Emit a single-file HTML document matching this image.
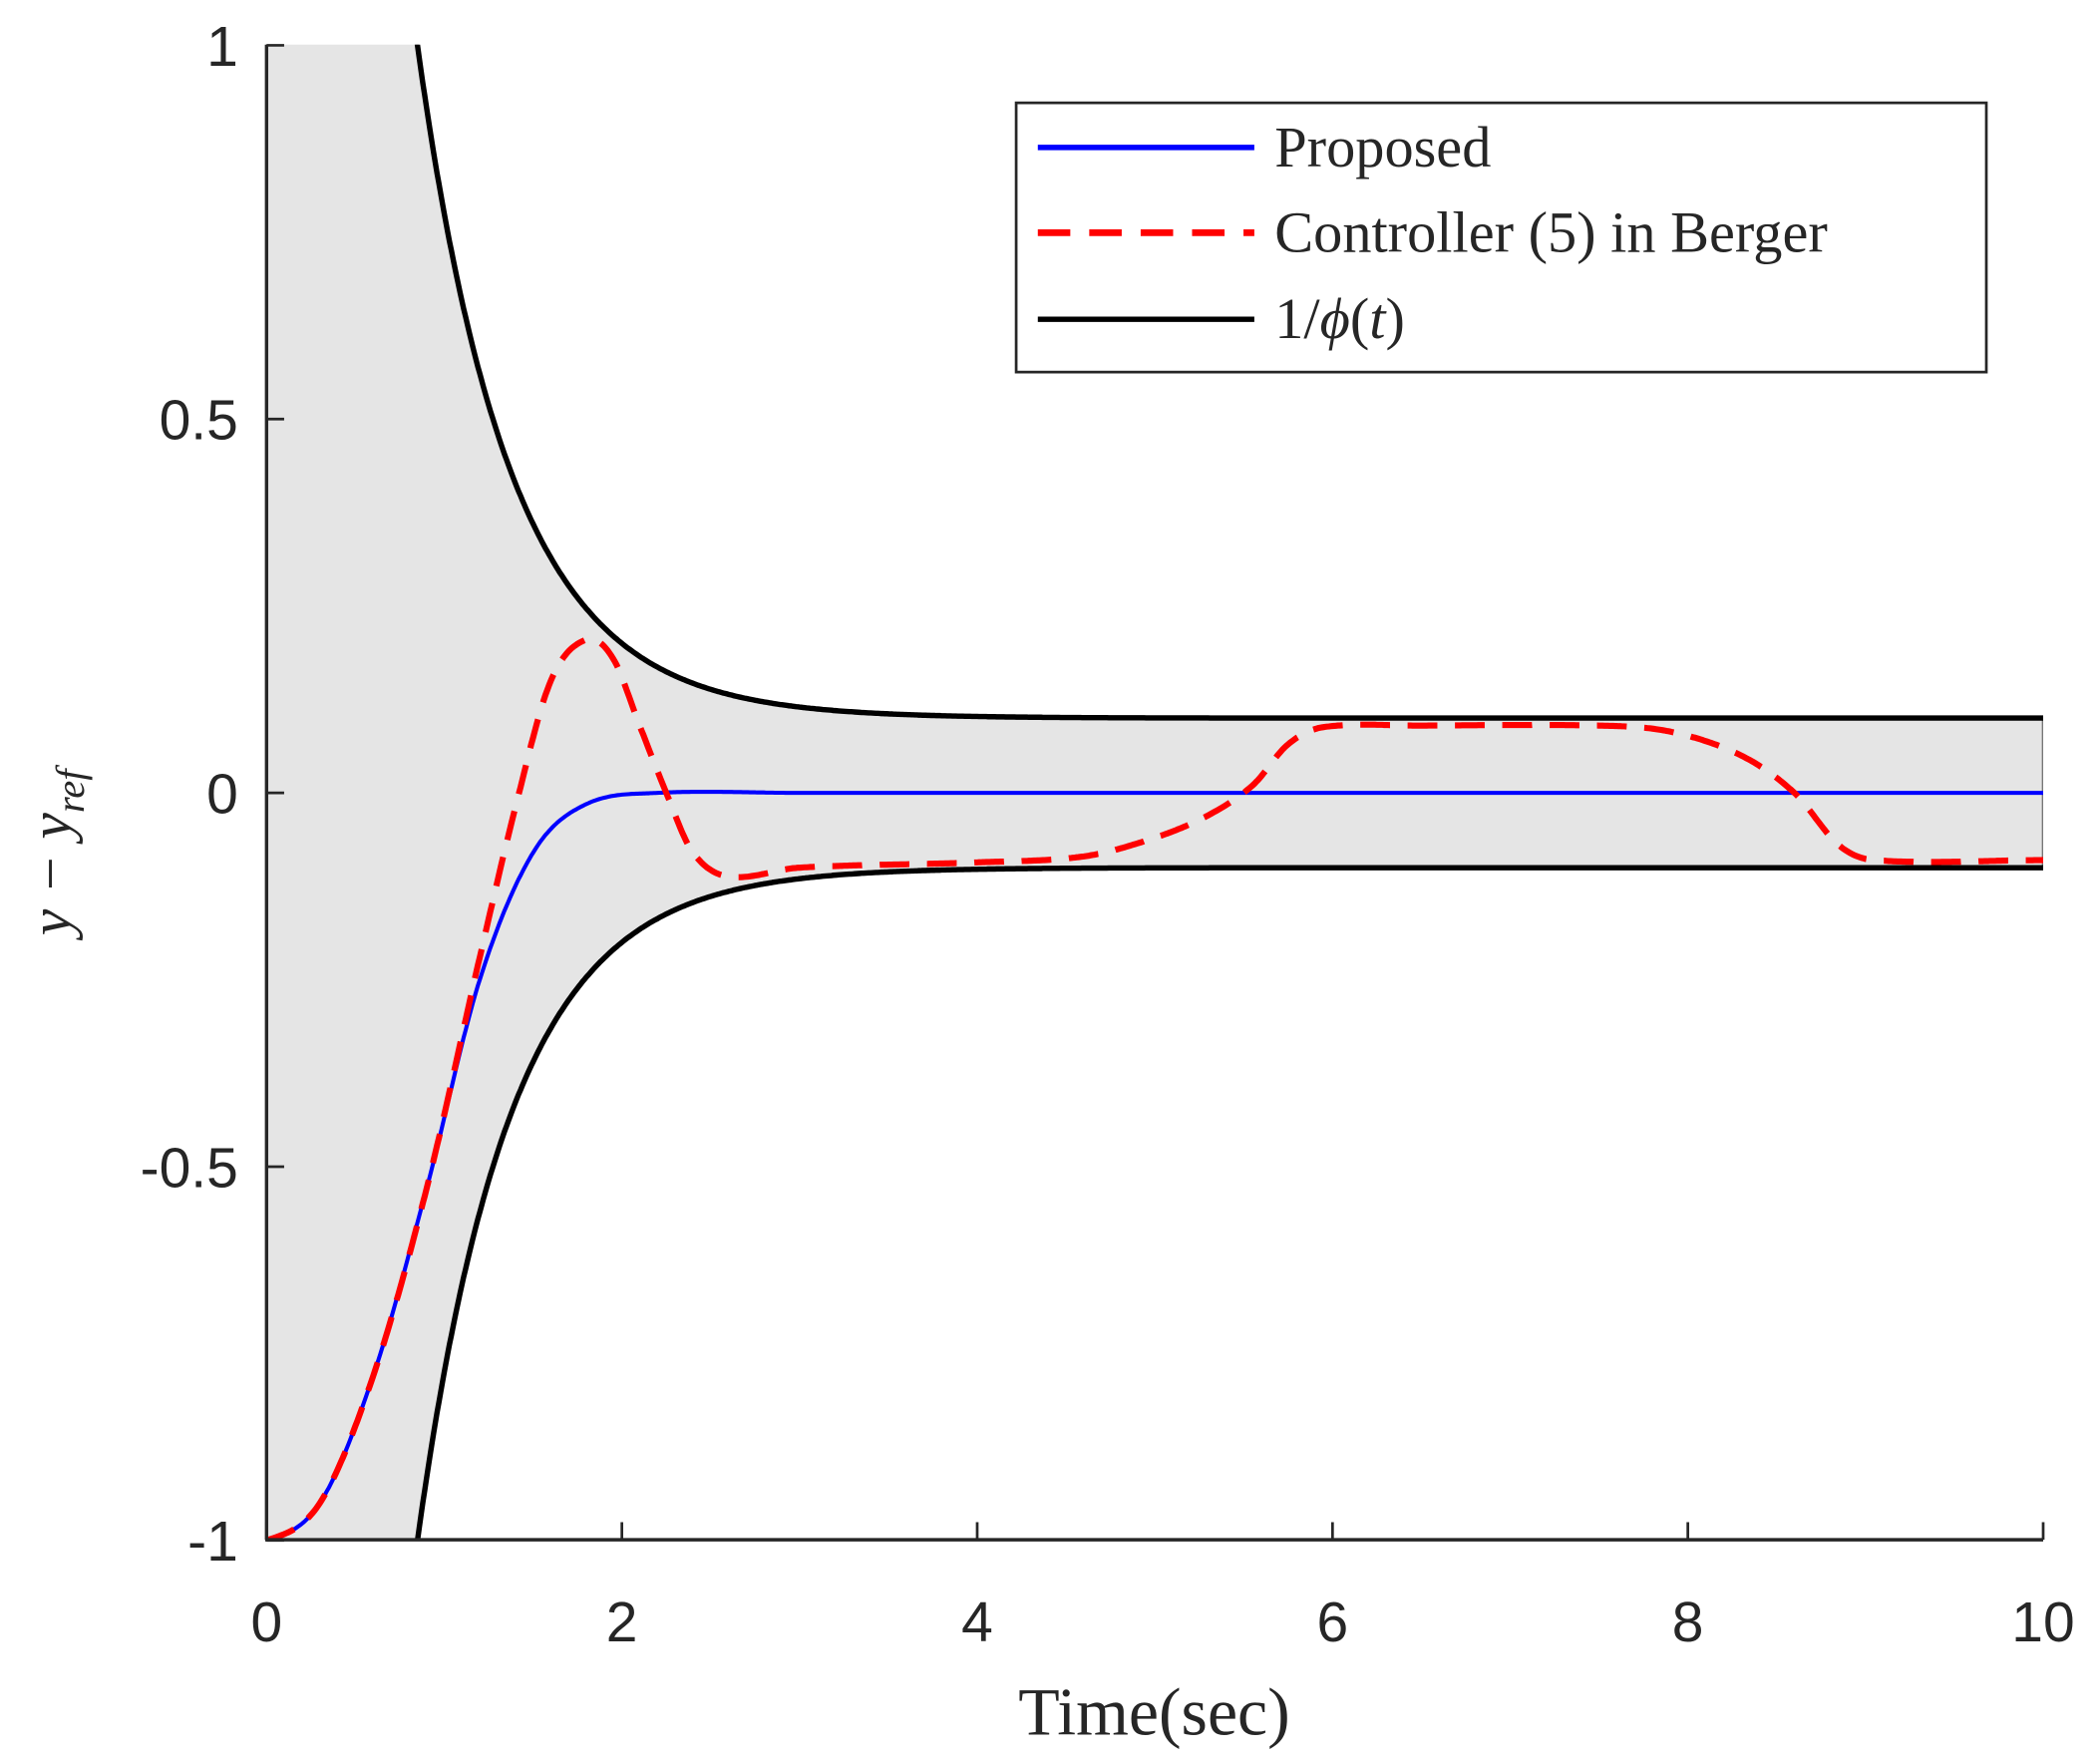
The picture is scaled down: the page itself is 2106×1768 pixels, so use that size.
<!DOCTYPE html>
<html><head><style>html,body{margin:0;padding:0;background:#fff;overflow:hidden;width:2106px;height:1768px}svg{display:block;position:absolute;left:0;top:0}</style></head>
<body>
<svg id="s" width="2106" height="1768" viewBox="0 0 1552 1303" preserveAspectRatio="none" xmlns="http://www.w3.org/2000/svg">
<defs><clipPath id="c"><rect x="197" y="33" width="1313" height="1105"/></clipPath></defs>
<g clip-path="url(#c)">
<path id="fill" fill="#e5e5e5" stroke="#777" stroke-width="2"/>
<path id="up" fill="none" stroke="#000" stroke-width="4"/>
<path id="lo" fill="none" stroke="#000" stroke-width="4"/>
<path id="blue" fill="none" stroke="#0000ff" stroke-width="3"/>
<path id="red" fill="none" stroke="#ff0000" stroke-width="4.5" stroke-dasharray="22,13"/>
</g>
<line x1="197" y1="33" x2="197" y2="1138" stroke="#262626" stroke-width="2.5"/>
<line x1="196" y1="1138" x2="1510" y2="1138" stroke="#262626" stroke-width="2.5"/>
<g id="ticks" stroke="#262626" stroke-width="2"></g>
<g font-family="Liberation Sans, sans-serif" font-size="42" fill="#262626" id="labs"></g>
<rect x="751" y="76" width="717" height="199" fill="#fff" stroke="#262626" stroke-width="2"/>
<line x1="767" y1="109" x2="927" y2="109" stroke="#0000ff" stroke-width="4"/>
<line x1="767" y1="172" x2="927" y2="172" stroke="#ff0000" stroke-width="5" stroke-dasharray="24,14"/>
<line x1="767" y1="236" x2="927" y2="236" stroke="#000" stroke-width="4"/>
<g font-family="Liberation Serif, serif" font-size="43" fill="#262626">
<text x="942" y="123">Proposed</text>
<text x="942" y="186">Controller (5) in Berger</text>
<text x="942" y="250">1/<tspan font-style="italic">ϕ</tspan>(<tspan font-style="italic">t</tspan>)</text>
<text x="853" y="1282" text-anchor="middle" font-size="50">Time(sec)</text>
<text transform="translate(52,630) rotate(-90)" text-anchor="middle" font-size="44" font-style="italic">y − y<tspan font-size="30" dy="10">ref</tspan></text>
</g>
</svg>
<script>
const X=t=>197+131.3*t, Y=v=>586-552.5*v;
const up=t=>0.1+4.56*Math.exp(-1.91*t);
const bk=[[-0.3,-1],[0,-1],[0.3,-0.95],[0.6,-0.78],[0.9,-0.53],[1.2,-0.25],[1.5,-0.08],[1.8,-0.015],[2.2,0],[3,0],[10,0],[11,0]];
const rk=[[-0.3,-1],[0,-1],[0.3,-0.95],[0.6,-0.78],[0.9,-0.53],[1.2,-0.22],[1.4,-0.02],[1.6,0.15],[1.8,0.205],[1.95,0.18],[2.1,0.09],[2.25,0],[2.4,-0.08],[2.6,-0.112],[3,-0.1],[4,-0.093],[4.6,-0.085],[5,-0.06],[5.3,-0.03],[5.55,0.01],[5.75,0.065],[5.95,0.088],[6.5,0.09],[7.5,0.09],[7.9,0.082],[8.3,0.05],[8.6,0],[8.85,-0.07],[9.05,-0.09],[10,-0.09],[11,-0.09]];
function cr(k,t){for(let i=1;i<k.length-2;i++){if(t<=k[i+1][0]){const p0=k[i-1],p1=k[i],p2=k[i+1],p3=k[i+2];const h=p2[0]-p1[0];const u=(t-p1[0])/h;
const m1=(p2[1]-p0[1])/(p2[0]-p0[0])*h,m2=(p3[1]-p1[1])/(p3[0]-p1[0])*h;const u2=u*u,u3=u2*u;
return (2*u3-3*u2+1)*p1[1]+(u3-2*u2+u)*m1+(-2*u3+3*u2)*p2[1]+(u3-u2)*m2;}}return k[k.length-1][1];}
let pu=[],pl=[],pb=[],pr=[];
for(let i=0;i<=1000;i++){const t=i/100;const u=Math.min(up(t),3);
pu.push(X(t).toFixed(1)+','+Y(u).toFixed(1));pl.push(X(t).toFixed(1)+','+Y(-u).toFixed(1));
pb.push(X(t).toFixed(1)+','+Y(cr(bk,t)).toFixed(1));pr.push(X(t).toFixed(1)+','+Y(cr(rk,t)).toFixed(1));}
document.getElementById('up').setAttribute('d','M'+pu.join('L'));
document.getElementById('lo').setAttribute('d','M'+pl.join('L'));
document.getElementById('fill').setAttribute('d','M'+pu.join('L')+'L'+pl.reverse().join('L')+'Z');
document.getElementById('blue').setAttribute('d','M'+pb.join('L'));
document.getElementById('red').setAttribute('d','M'+pr.join('L'));
const tk=document.getElementById('ticks'),lb=document.getElementById('labs');let h='',l='';
for(let t=0;t<=10;t+=2){h+=`<line x1="${X(t)}" y1="1138" x2="${X(t)}" y2="1125"/>`;l+=`<text x="${X(t)}" y="1213" text-anchor="middle">${t}</text>`;}
[[-1,'-1'],[-0.5,'-0.5'],[0,'0'],[0.5,'0.5'],[1,'1']].forEach(([v,s])=>{h+=`<line x1="197" y1="${Y(v)}" x2="210" y2="${Y(v)}"/>`;l+=`<text x="176" y="${Y(v)+15}" text-anchor="end">${s}</text>`;});
tk.innerHTML=h;lb.innerHTML=l;
</script>
</body></html>
